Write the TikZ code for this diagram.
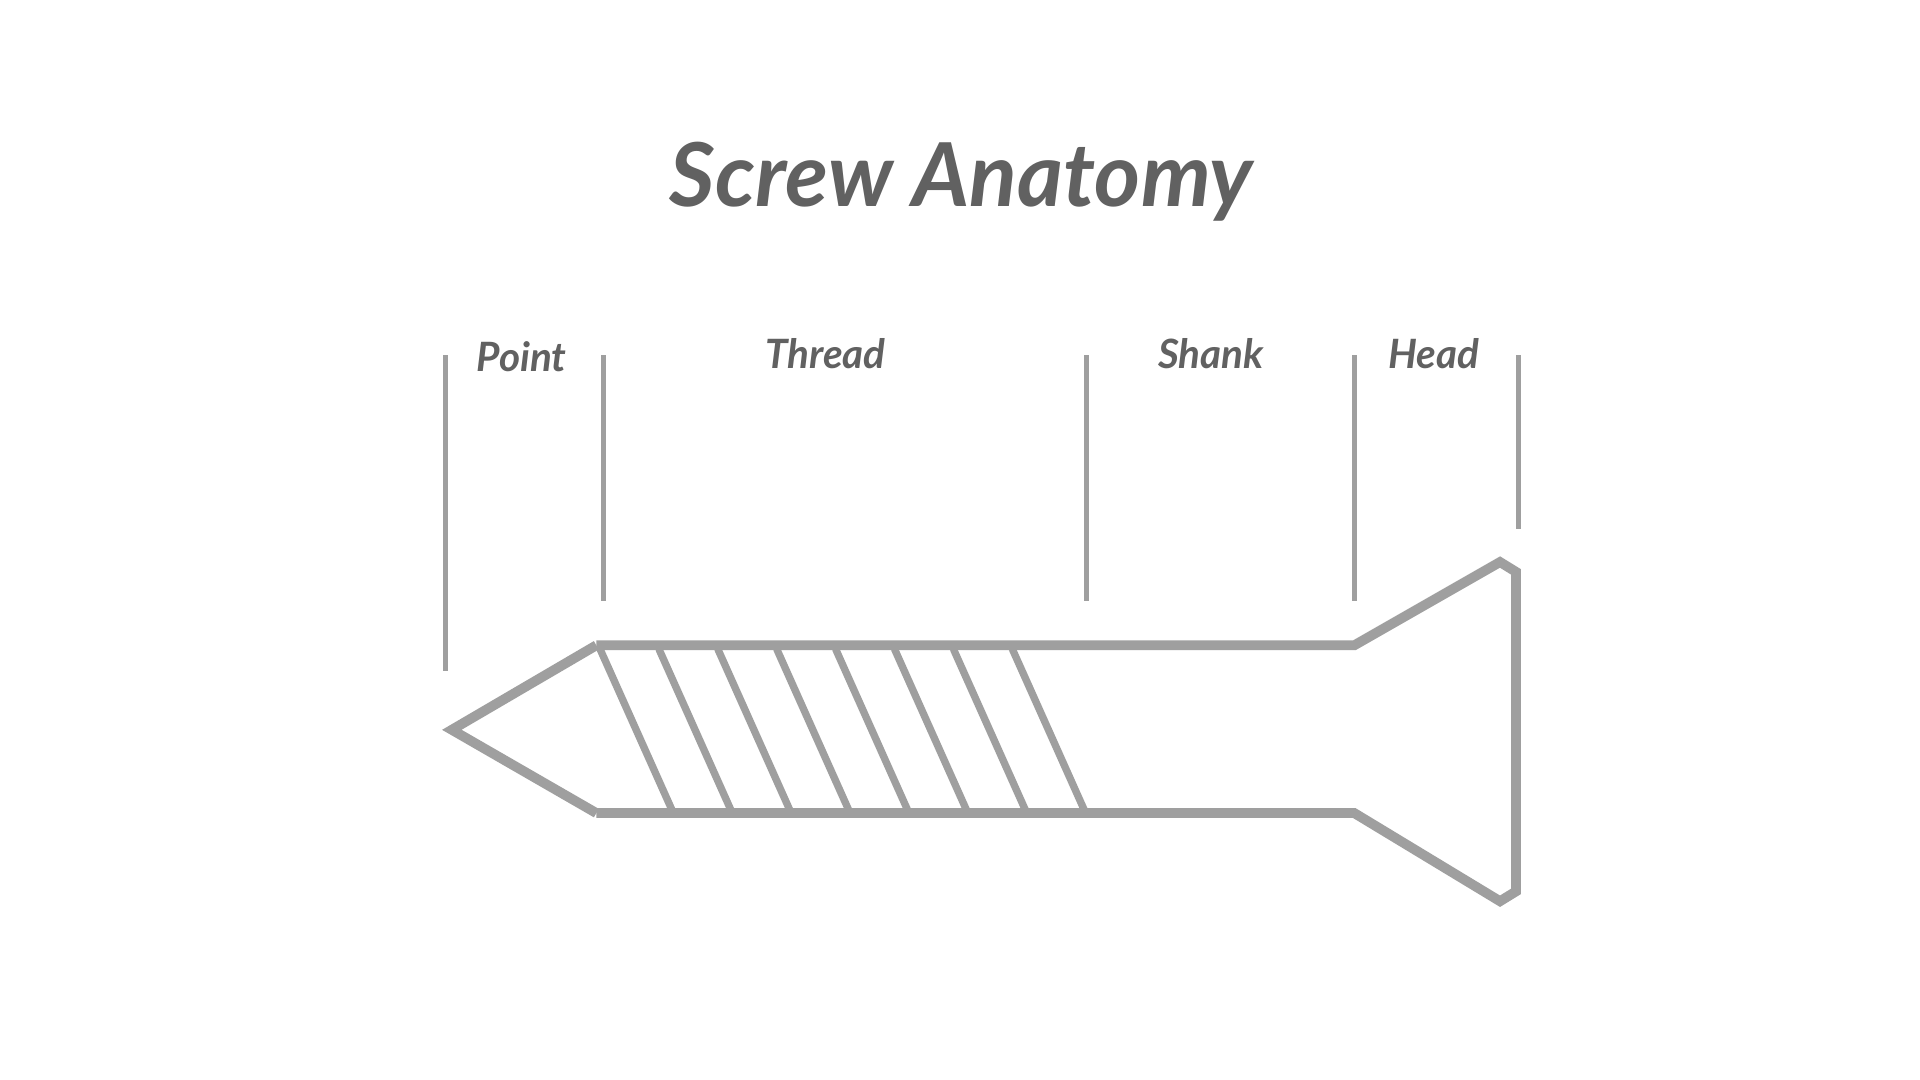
\documentclass[tikz,border=0pt]{standalone}
\usepackage{fontspec}
\setmainfont{Lato}
\begin{document}
\begin{tikzpicture}[x=1pt,y=-1pt,
  guide/.style={draw=gray!75, line width=4pt},
  body/.style={draw=gray!75, line width=8pt, line join=miter},
  thr/.style={draw=gray!75, line width=6pt},
  lbl/.style={text=black!62, font=\fontsize{33}{36}\selectfont\bfseries\itshape}]
\useasboundingbox[fill=white] (0,0) rectangle (1568,882);
\node[text=black!62, font=\fontsize{72}{80}\selectfont\bfseries\itshape] (title) at (785,148) {Screw Anatomy};
\node[lbl] (lp) at (426,291) {Point};
\node[lbl] (lt) at (674,289) {Thread};
\node[lbl] (ls) at (989,289) {Shank};
\node[lbl] (lh) at (1171,289) {Head};
\coordinate (g1a) at (364,290); \coordinate (g1b) at (364,548);
\coordinate (g2a) at (493,290); \coordinate (g2b) at (493,491);
\coordinate (g3a) at (887,290); \coordinate (g3b) at (887,491);
\coordinate (g4a) at (1106,290); \coordinate (g4b) at (1106,491);
\coordinate (g5a) at (1240,290); \coordinate (g5b) at (1240,432);
\foreach \i in {1,...,5} \draw[guide] (g\i a) -- (g\i b);
\coordinate (tl) at (487,527); \coordinate (tip) at (369,596); \coordinate (bl) at (487,664);
\coordinate (tr) at (1106,527); \coordinate (br) at (1106,664);
\coordinate (h1) at (1225,459); \coordinate (h2) at (1238,467);
\coordinate (h3) at (1238,728); \coordinate (h4) at (1225,736);
\draw[body] (tl) -- (tip) -- (bl);
\draw[body] (tl) -- (tr) -- (h1) -- (h2) -- (h3) -- (h4) -- (br) -- (bl);
\foreach \k in {0,...,7} {
  \coordinate (ta\k) at ({490+48.1*\k},530);
  \coordinate (tb\k) at ({549+48.1*\k},662);
  \draw[thr] (ta\k) -- (tb\k);
}
\end{tikzpicture}
\end{document}
